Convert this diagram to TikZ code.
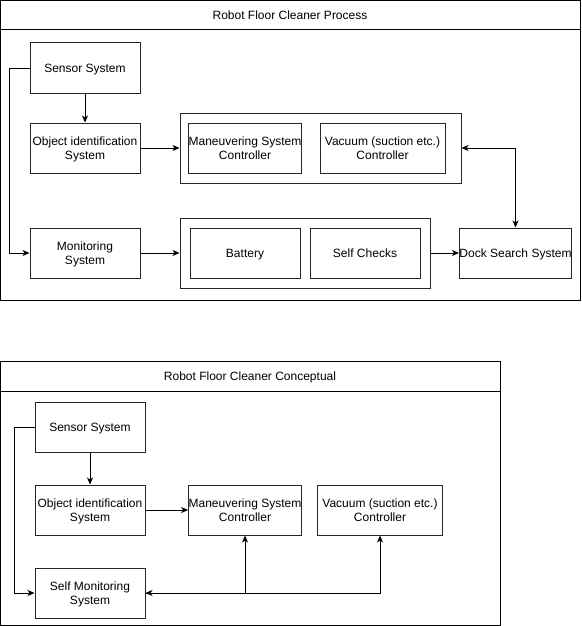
\documentclass[tikz,border=0pt]{standalone}
\usepackage{fontspec}
\setmainfont{Liberation Sans}
\usetikzlibrary{arrows.meta}
\begin{document}
\begin{tikzpicture}[x=1pt,y=-1pt,
  font=\fontsize{12}{14}\selectfont,
  box/.style={draw=black!85, line width=1pt, minimum width=110pt, minimum height=50pt, align=center, inner sep=0pt, text height=10pt, text depth=2pt},
  two/.style={text height=24pt},
  wbox/.style={box, minimum width=125pt},
  grp/.style={draw=black!85, line width=1pt, minimum height=70pt, inner sep=0pt},
  frame/.style={draw=black, line width=1pt},
  arr/.style={draw=black, line width=1pt, -{Stealth[length=7pt,width=6pt,inset=2pt]}},
  arrb/.style={draw=black, line width=1pt, {Stealth[length=7pt,width=6pt,inset=2pt]}-{Stealth[length=7pt,width=6pt,inset=2pt]}},
  ttl/.style={inner sep=0pt, text height=10pt, text depth=2pt}
]
\useasboundingbox (0,0) rectangle (581,626);
\fill[white] (0,0) rectangle (581,626);

% ---------- Top frame ----------
\draw[frame] (0.5,0.5) rectangle (580,300);
\draw[frame] (0.5,30) -- (580,30);
\node[ttl] (t1) at (290,15.5) {Robot Floor Cleaner Process};

\node[grp, minimum width=281pt] (g1) at (320.5,148) {};
\node[grp, minimum width=250pt] (g2) at (305,253) {};

\node[box] (s1) at (85,68) {Sensor System};
\node[box, two] (o1) at (85,148) {Object identification\\System};
\node[box, two] (m1) at (85,253) {Monitoring\\System};
\node[box, two] (man1) at (245,148) {Maneuvering System\\Controller};
\node[wbox, two] (vac1) at (382.5,148) {Vacuum (suction etc.)\\Controller};
\node[box] (bat) at (245,253) {Battery};
\node[box] (sc) at (365,253) {Self Checks};
\node[box, minimum width=111pt] (dock) at (515.5,253) {Dock Search System};

\draw[arr] (s1.south) -- (o1.north);
\draw[arr] (s1.west) -- ++(-20,0) |- (m1.west);
\draw[arr] (o1.east) -- (g1.west);
\draw[arr] (m1.east) -- (g2.west);
\draw[arr] (g2.east) -- (dock.west);
\draw[arrb] (g1.east) -| (dock.north);

% ---------- Bottom frame ----------
\draw[frame] (0.5,361) rectangle (500,625);
\draw[frame] (0.5,391) -- (500,391);
\node[ttl] (t2) at (250,376.5) {Robot Floor Cleaner Conceptual};

\node[box] (s2) at (90,427) {Sensor System};
\node[box, two] (o2) at (90,510) {Object identification\\System};
\node[box, two] (sm) at (90,593) {Self Monitoring\\System};
\node[box, two] (man2) at (245,510) {Maneuvering System\\Controller};
\node[wbox, two] (vac2) at (380,510) {Vacuum (suction etc.)\\Controller};

\draw[arr] (s2.south) -- (o2.north);
\draw[arr] (s2.west) -- ++(-20,0) |- (sm.west);
\draw[arr] (o2.east) -- (man2.west);
\draw[arrb] (sm.east) -| (man2.south);
\draw[arr] (sm.east) -| (vac2.south);
\end{tikzpicture}
\end{document}
